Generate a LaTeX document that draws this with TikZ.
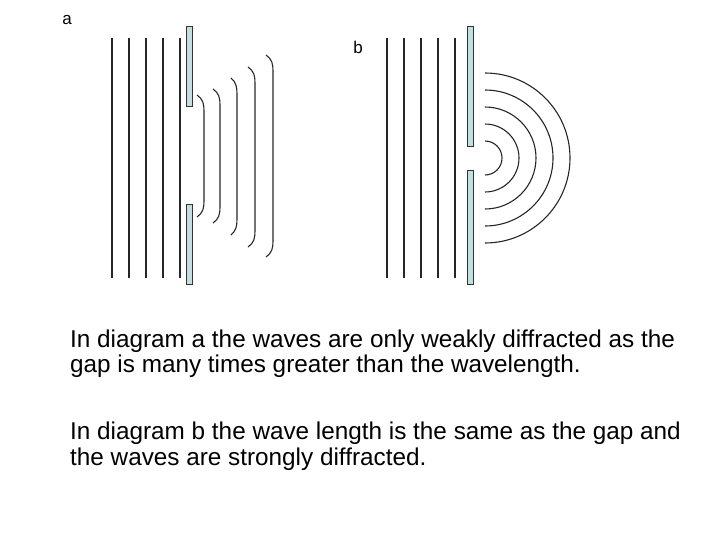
\documentclass[tikz,border=0pt]{standalone}
\usepackage{fontspec}
\setmainfont{Liberation Sans}
\begin{document}
\begin{tikzpicture}[x=1pt,y=-1pt,
  wave/.style={line width=1.1pt,black!85},
  barrier/.style={draw=black!80,fill={rgb,255:red,194;green,222;blue,222},line width=0.9pt},
  txt/.style={anchor=west,font=\fontsize{24.3}{28}\selectfont,inner sep=0pt},
  lab/.style={font=\fontsize{17}{19}\selectfont,inner sep=0pt}]
\useasboundingbox (0,0) rectangle (728,546);
% diagram a
\node[lab] (la) at (67,20) {a};
\foreach \x in {112,129,146,163,180} \draw[wave] (\x,38) -- (\x,278);
\node[barrier,minimum width=6pt,minimum height=80pt,inner sep=0pt] (a1) at (189,66) {};
\node[barrier,minimum width=6pt,minimum height=80pt,inner sep=0pt] (a2) at (189,244) {};
\foreach \xa/\xb/\ya/\yb in {197/204/95/217,213/220/89/223,231/237/78/235,248/255/67/247,266/273/55/257}{
  \draw[wave] (\xa,\ya) .. controls (\xb-1,\ya+4) and (\xb,\ya+9) .. (\xb,\ya+16) -- (\xb,\yb-16) .. controls (\xb,\yb-9) and (\xb-1,\yb-4) .. (\xa,\yb);
}
% diagram b
\node[lab] (lb) at (358,47) {b};
\foreach \x in {387,404,421,438,455} \draw[wave] (\x,38) -- (\x,278);
\node[barrier,minimum width=6pt,minimum height=120pt,inner sep=0pt] (b1) at (470,86) {};
\node[barrier,minimum width=6pt,minimum height=114pt,inner sep=0pt] (b2) at (470,227) {};
\coordinate (c) at (485,158);
\foreach \r in {17,34,51,68,85}
  \draw[wave] ([shift={(0,-\r)}]c) arc[start angle=-90,end angle=90,radius=\r];
% text
\node[txt] (t1) at (70,341) {In diagram a the waves are only weakly diffracted as the};
\node[txt] (t2) at (70,366) {gap is many times greater than the wavelength.};
\node[txt] (t3) at (70,433) {In diagram b the wave length is the same as the gap and};
\node[txt] (t4) at (70,459) {the waves are strongly diffracted.};
\end{tikzpicture}
\end{document}
